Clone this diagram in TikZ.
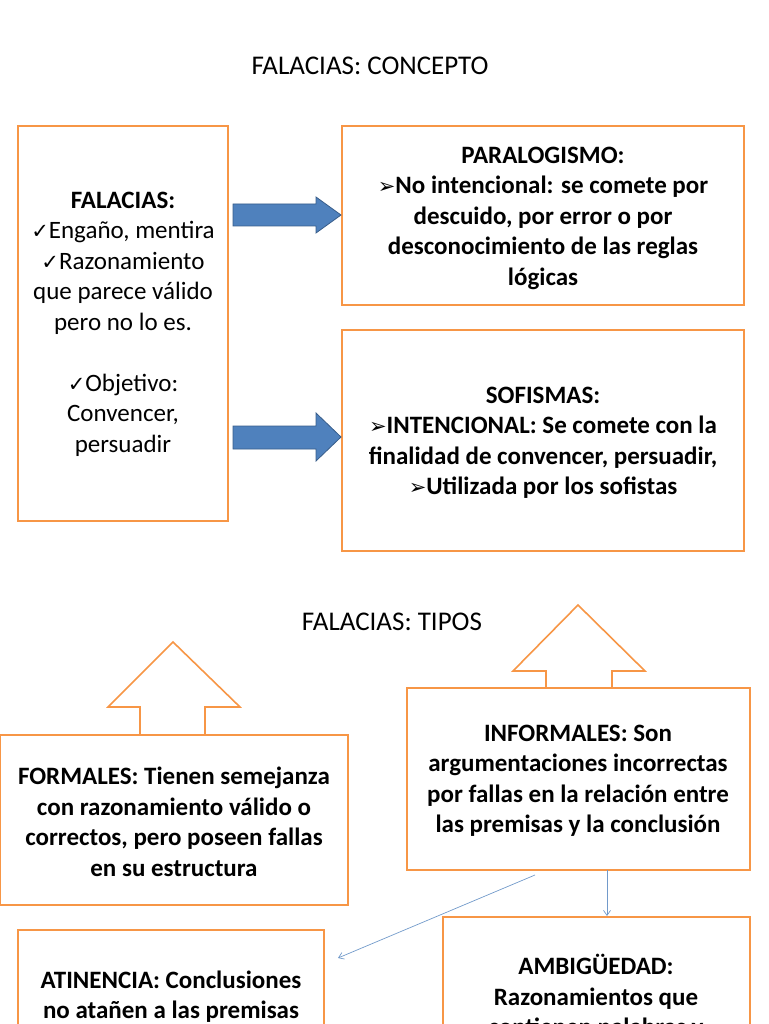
\documentclass[tikz,border=0pt]{standalone}
\usepackage{fontspec}
\setmainfont{Carlito}
\newfontfamily\symf{DejaVu Sans}
\usetikzlibrary{arrows.meta}
\definecolor{orng}{RGB}{247,150,70}
\definecolor{blu}{RGB}{79,129,189}
\definecolor{bludk}{RGB}{56,93,138}
\newcommand{\ck}{{\symf\fontsize{21}{25}\selectfont ✓}}
\newcommand{\ar}{{\symf\fontsize{21}{25}\selectfont ➢}}
\begin{document}
\begin{tikzpicture}[x=1pt,y=-1pt,
 box/.style={draw=orng,line width=1.6pt,fill=white},
 ttl/.style={font=\fontsize{27}{31}\selectfont},
 txt/.style={align=center,font=\fontsize{25}{30.5}\selectfont},
 btxt/.style={align=center,font=\fontsize{25}{30.5}\selectfont\bfseries},
 blk/.style={fill=blu,draw=bludk,line width=0.8pt},
 upar/.style={draw=orng,line width=1.6pt,fill=white},
 thin/.style={draw=blu!80,line width=0.7pt,-{Straight Barb[length=5pt,width=7pt]}}]
\useasboundingbox (0,0) rectangle (768,1024);
\node[ttl] (t1) at (370,66) {FALACIAS: CONCEPTO};
\node[ttl] (t2) at (392,622) {FALACIAS: TIPOS};
% boxes
\draw[box] (18,126) rectangle (228,521);
\node[txt] (fal) at (123,324) {\textbf{FALACIAS:}\\\ck Engaño, mentira\\\ck Razonamiento\\que parece válido\\pero no lo es.\\[30.5pt]\ck Objetivo:\\Convencer,\\persuadir};
\draw[box] (342,126) rectangle (744,305);
\node[btxt] (par) at (543,218) {PARALOGISMO:\\\ar No intencional: se comete por\\descuido, por error o por\\desconocimiento de las reglas\\lógicas};
\draw[box] (342,330) rectangle (744,551);
\node[btxt] (sof) at (543,443) {SOFISMAS:\\\ar INTENCIONAL: Se comete con la\\finalidad de convencer, persuadir,\\\ar Utilizada por los sofistas};
% block arrows
\draw[blk] (233,204) -- (316,204) -- (316,197) -- (341,215) -- (316,233) -- (316,226) -- (233,226) -- cycle;
\draw[blk] (233,426) -- (316,426) -- (316,413) -- (341,437) -- (316,461) -- (316,449) -- (233,449) -- cycle;
% up arrows
\draw[upar] (140,737) -- (140,707) -- (108,707) -- (173,642) -- (240,707) -- (205,707) -- (205,737);
\draw[upar] (546,690) -- (546,671) -- (513,671) -- (578,605) -- (645,671) -- (612,671) -- (612,690);
\draw[box] (0,735) rectangle (348,905);
\node[btxt] (form) at (174,822) {FORMALES: Tienen semejanza\\con razonamiento válido o\\correctos, pero poseen fallas\\en su estructura};
\draw[box] (407,688) rectangle (750,870);
\node[btxt] (inf) at (578,781) {INFORMALES: Son\\argumentaciones incorrectas\\por fallas en la relación entre\\las premisas y la conclusión};
\draw[box] (18,930) rectangle (324,1030);
\node[btxt,anchor=north] (ati) at (171,967) {ATINENCIA: Conclusiones\\no atañen a las premisas};
\draw[box] (443,917) rectangle (750,1030);
\node[btxt,anchor=north] (amb) at (596,951) {AMBIGÜEDAD:\\Razonamientos que\\contienen palabras y};
\coordinate (s1) at (535,875); \coordinate (e1) at (338,958);
\coordinate (s2) at (607,870); \coordinate (e2) at (607,916);
\draw[thin] (s1) -- (e1);
\draw[thin] (s2) -- (e2);
\end{tikzpicture}
\end{document}
